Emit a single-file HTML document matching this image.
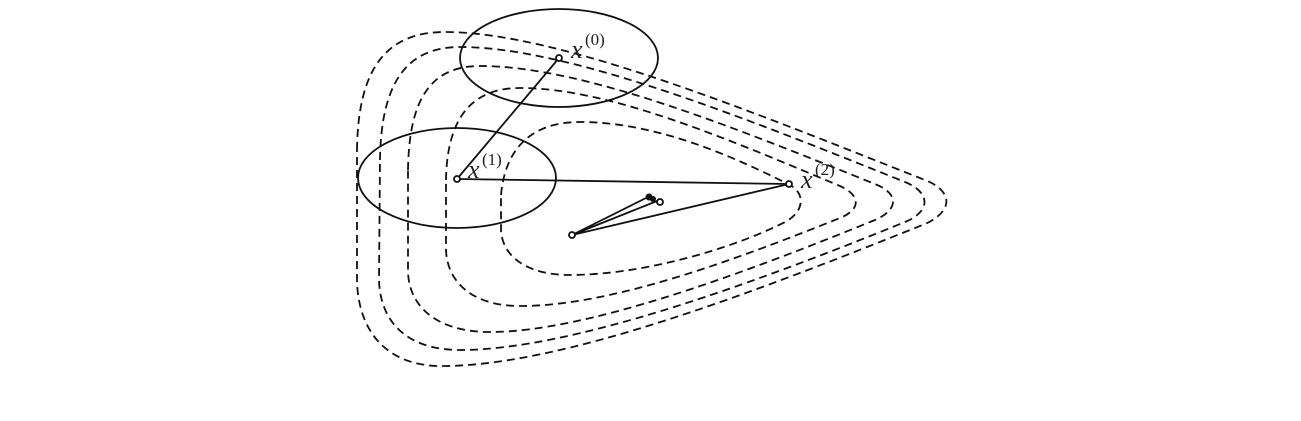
<!DOCTYPE html>
<html><head><meta charset="utf-8"><style>
html,body{margin:0;padding:0;background:#fff;}
svg{display:block;}
text{font-family:"Liberation Serif",serif;font-style:italic;fill:#222;}
</style></head><body>
<svg width="1301" height="421" viewBox="0 0 1301 421" xmlns="http://www.w3.org/2000/svg">
<g fill="none" stroke="#111" stroke-width="1.8" stroke-dasharray="8,5">
<path d="M357,150 C358,70 385,32 445,32 C560,32 760,115 925,180 C955,192 952,212 925,224 C760,290 560,368 437,366 C385,364 358,330 357,280 Z"/>
<path d="M380,160 C381,85 405,47 460,47 C570,47 750,120 905,182 C932,193 930,212 905,222 C750,285 570,350 460,350 C405,350 380,320 379,280 Z"/>
<path d="M408,170 C409,100 430,66 480,66 C585,66 740,130 875,184 C900,194 898,210 875,220 C740,275 585,332 490,332 C435,332 408,305 408,270 Z"/>
<path d="M446,180 C447,120 470,88 520,88 C610,88 730,140 840,186 C862,196 860,210 840,218 C730,262 610,306 520,306 C470,306 447,280 446,250 Z"/>
<path d="M501,195 C505,150 530,122 580,122 C660,122 740,160 790,185 C806,194 804,212 785,222 C730,250 640,275 570,275 C525,275 502,255 501,230 Z"/>
</g>
<g fill="none" stroke="#111" stroke-width="1.8">
<ellipse cx="559" cy="58" rx="99" ry="49"/>
<ellipse cx="457" cy="178" rx="99" ry="50"/>
<path d="M559,58 L457,179 L789,184 L572,235 L657,201"/>
<path d="M572,235 L648,197"/>
</g>
<g fill="#fff" stroke="#111" stroke-width="1.8">
<circle cx="559" cy="58" r="3"/>
<circle cx="457" cy="179" r="3"/>
<circle cx="789" cy="184" r="3"/>
<circle cx="572" cy="235" r="3"/>
<circle cx="660" cy="202" r="3"/>
</g>
<circle cx="649" cy="197" r="3.5" fill="#111"/>
<circle cx="653" cy="199" r="3" fill="#111"/>
<text x="571" y="58" font-size="26">x</text><text x="585" y="45" font-size="17" style="font-style:normal">(0)</text>
<text x="468" y="178" font-size="26">x</text><text x="482" y="165" font-size="17" style="font-style:normal">(1)</text>
<text x="801" y="188" font-size="26">x</text><text x="815" y="175" font-size="17" style="font-style:normal">(2)</text>
</svg>
</body></html>
